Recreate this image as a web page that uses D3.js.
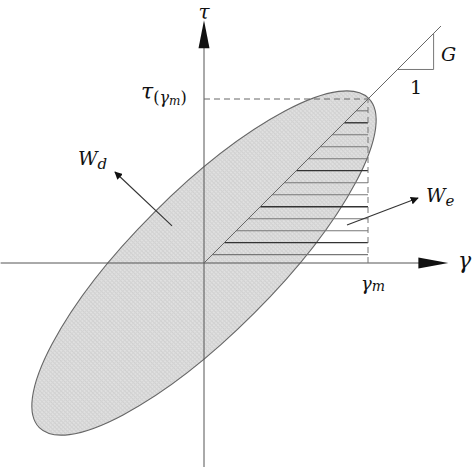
<!DOCTYPE html>
<html>
<head>
<meta charset="utf-8">
<script src="https://cdn.jsdelivr.net/npm/d3@7"></script>
<style>
  body { margin: 0; background: #fff; }
  svg text { font-family: "DejaVu Serif", "Liberation Serif", serif; fill: #111; }
</style>
</head>
<body>
<div id="container"></div>
<script>
/* CONSTANTS AND GLOBALS */
const width = 474,
  height = 467;

// data units: gamma_m = 1, tau_m = 1
const gammaM = 1;
const tauM = 1;
const gammaAxisExtent = [-1.24, 1.49];   // horizontal axis, arrow at right
const tauAxisExtent = [-1.25, 1.48];     // vertical axis, arrow at top
const secantEnd = 1.445;                 // 45 deg line from origin (slope G)
const ellipseAxes = [1.42, 0.433];       // semi-major (along secant), semi-minor
const hatchTaus = [0.051, 0.124, 0.197, 0.270, 0.343, 0.416, 0.489, 0.563, 0.636, 0.709, 0.782, 0.855, 0.928];
const darkHatch = [0.124, 0.343, 0.563, 0.855];
const slopeTriangle = [[1.18, 1.18], [1.40, 1.18], [1.40, 1.40]];
const arrowWd = [[-0.195, 0.226], [-0.543, 0.555]];
const arrowWe = [[0.872, 0.232], [1.305, 0.396]];

/* SCALES */
const xScale = d3.scaleLinear().domain([0, 1]).range([204, 368]);
const yScale = d3.scaleLinear().domain([0, 1]).range([263, 99]);
const px = xScale(1) - xScale(0); // pixels per unit

const svg = d3.select("#container")
  .append("svg")
  .attr("width", width)
  .attr("height", height);

const defs = svg.append("defs");

// stippled grey fill like the scanned figure
const pat = defs.append("pattern")
  .attr("id", "stipple")
  .attr("width", 3)
  .attr("height", 3)
  .attr("patternUnits", "userSpaceOnUse");
pat.append("rect").attr("width", 3).attr("height", 3).attr("fill", "#e0e0e0");
pat.append("rect").attr("x", 0).attr("y", 0).attr("width", 1).attr("height", 3).attr("fill", "#cfcfcf");
pat.append("rect").attr("x", 0).attr("y", 0).attr("width", 3).attr("height", 1).attr("fill", "#d4d4d4");

defs.append("marker")
  .attr("id", "head")
  .attr("viewBox", "0 0 10 10")
  .attr("refX", 9)
  .attr("refY", 5)
  .attr("markerWidth", 8)
  .attr("markerHeight", 8)
  .attr("markerUnits", "userSpaceOnUse")
  .attr("orient", "auto")
  .append("path")
  .attr("d", "M0,0 L10,5 L0,10 Z")
  .attr("fill", "#111");

// + ELLIPSE (hysteresis loop)
svg.append("ellipse")
  .attr("cx", xScale(0))
  .attr("cy", yScale(0))
  .attr("rx", ellipseAxes[0] * px)
  .attr("ry", ellipseAxes[1] * px)
  .attr("transform", `rotate(-45, ${xScale(0)}, ${yScale(0)})`)
  .attr("fill", "url(#stipple)")
  .attr("stroke", "#666")
  .attr("stroke-width", 1.1);

// + AXES
svg.append("line")
  .attr("x1", xScale(gammaAxisExtent[0])).attr("x2", xScale(gammaAxisExtent[1]) - 28)
  .attr("y1", yScale(0)).attr("y2", yScale(0))
  .attr("stroke", "#555").attr("stroke-width", 1);
svg.append("path")
  .attr("d", `M${xScale(gammaAxisExtent[1])},${yScale(0)} L${xScale(gammaAxisExtent[1]) - 30},${yScale(0) - 5.5} L${xScale(gammaAxisExtent[1]) - 30},${yScale(0) + 5.5} Z`)
  .attr("fill", "#111");

svg.append("line")
  .attr("x1", xScale(0)).attr("x2", xScale(0))
  .attr("y1", yScale(tauAxisExtent[0])).attr("y2", yScale(tauAxisExtent[1]) + 26)
  .attr("stroke", "#555").attr("stroke-width", 1);
svg.append("path")
  .attr("d", `M${xScale(0)},${yScale(tauAxisExtent[1])} L${xScale(0) - 5.5},${yScale(tauAxisExtent[1]) + 28} L${xScale(0) + 5.5},${yScale(tauAxisExtent[1]) + 28} Z`)
  .attr("fill", "#111");

// + HATCHING (W_e)
svg.selectAll(".hatch")
  .data(hatchTaus)
  .join("line")
  .attr("class", "hatch")
  .attr("x1", d => xScale(d))
  .attr("x2", xScale(gammaM))
  .attr("y1", d => yScale(d))
  .attr("y2", d => yScale(d))
  .attr("stroke", d => darkHatch.includes(d) ? "#333" : "#777")
  .attr("stroke-width", d => darkHatch.includes(d) ? 1.4 : 1.1);

// + DASHED GUIDES
svg.append("line")
  .attr("x1", xScale(0)).attr("x2", xScale(gammaM))
  .attr("y1", yScale(tauM)).attr("y2", yScale(tauM))
  .attr("stroke", "#666").attr("stroke-dasharray", "6,4");
svg.append("line")
  .attr("x1", xScale(gammaM)).attr("x2", xScale(gammaM))
  .attr("y1", yScale(0)).attr("y2", yScale(tauM))
  .attr("stroke", "#777").attr("stroke-dasharray", "6,4");

// + SECANT LINE (slope G)
svg.append("line")
  .attr("x1", xScale(0)).attr("y1", yScale(0))
  .attr("x2", xScale(secantEnd)).attr("y2", yScale(secantEnd))
  .attr("stroke", "#666").attr("stroke-width", 1);

svg.append("path")
  .attr("d", d3.line().x(d => xScale(d[0])).y(d => yScale(d[1]))(slopeTriangle))
  .attr("fill", "none")
  .attr("stroke", "#777")
  .attr("stroke-width", 1);

// + POINTER ARROWS
[arrowWd, arrowWe].forEach(a => {
  svg.append("line")
    .attr("x1", xScale(a[0][0])).attr("y1", yScale(a[0][1]))
    .attr("x2", xScale(a[1][0])).attr("y2", yScale(a[1][1]))
    .attr("stroke", "#333").attr("stroke-width", 1.1)
    .attr("marker-end", "url(#head)");
});

// + LABELS
const italic = (sel) => sel.attr("font-style", "italic");

svg.append("text").call(italic)
  .attr("x", 204).attr("y", 19).attr("font-size", 20)
  .attr("text-anchor", "middle").text("τ");

svg.append("text").call(italic)
  .attr("x", 458).attr("y", 268).attr("font-size", 22).text("γ");

const tl = svg.append("text").attr("x", 141).attr("y", 99);
tl.append("tspan").attr("font-style", "italic").attr("font-size", 22).text("τ");
tl.append("tspan").attr("font-size", 16).attr("dy", 4).text("(");
tl.append("tspan").attr("font-style", "italic").attr("font-size", 16).text("γ");
tl.append("tspan").attr("font-style", "italic").attr("font-size", 12).attr("dy", 2).text("m");
tl.append("tspan").attr("font-size", 16).attr("dy", -2).text(")");

const gl = svg.append("text").attr("x", 361).attr("y", 290);
gl.append("tspan").attr("font-style", "italic").attr("font-size", 18).text("γ");
gl.append("tspan").attr("font-style", "italic").attr("font-size", 14).attr("dy", 1).text("m");

const wd = svg.append("text").attr("x", 78).attr("y", 165);
wd.append("tspan").attr("font-style", "italic").attr("font-size", 19).text("W");
wd.append("tspan").attr("font-style", "italic").attr("font-size", 15).attr("dy", 4).text("d");

const we = svg.append("text").attr("x", 426).attr("y", 202);
we.append("tspan").attr("font-style", "italic").attr("font-size", 19).text("W");
we.append("tspan").attr("font-style", "italic").attr("font-size", 15).attr("dy", 4).text("e");

svg.append("text").call(italic)
  .attr("x", 441).attr("y", 61).attr("font-size", 19).text("G");

svg.append("text")
  .attr("x", 410).attr("y", 94).attr("font-size", 19).text("1");
</script>
</body>
</html>
